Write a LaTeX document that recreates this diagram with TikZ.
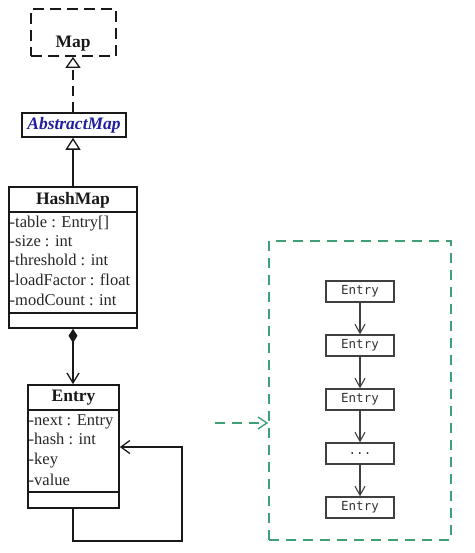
\documentclass[tikz,border=0pt]{standalone}
\usepackage{fontspec}
\setmainfont{Liberation Serif}
\setmonofont{DejaVu Sans Mono}
\usetikzlibrary{arrows.meta}
\definecolor{lineblack}{RGB}{25,25,25}
\definecolor{dashgreen}{RGB}{62,160,118}
\definecolor{absblue}{RGB}{30,30,160}
\tikzset{
  umlbox/.style={draw=lineblack, line width=1.6pt, inner sep=0pt, minimum width=#1},
  hdr/.style={font=\fontsize{17.5}{20}\selectfont\bfseries, text=lineblack, inner sep=0pt},
  attr/.style={font=\fontsize{16.5}{19.5}\selectfont, text=black!85, anchor=west, inner sep=0pt, text height=11pt, text depth=3pt},
  sepline/.style={draw=lineblack, line width=1.6pt},
  conn/.style={draw=lineblack, line width=1.5pt},
  realize/.style={conn, dashed, dash pattern=on 10pt off 6pt, -{Triangle[open, length=11pt, width=15pt, line width=1.3pt]}},
  inherit/.style={conn, -{Triangle[open, length=12pt, width=15pt, line width=1.3pt]}},
  vhead/.style={-{Straight Barb[length=9pt, width=13pt, line width=1.3pt]}},
  entrybox/.style={draw=black!75, line width=1.3pt, minimum width=68pt, minimum height=21pt, inner sep=0pt, font=\fontsize{12.5}{14}\selectfont\ttfamily, text=black!80},
  chain/.style={draw=black!75, line width=1.2pt, -{Straight Barb[length=9pt, width=10pt, line width=1.1pt]}},
  greenbox/.style={draw=dashgreen, line width=1.6pt, dash pattern=on 10pt off 7pt, minimum width=182pt, minimum height=299pt, inner sep=0pt},
}
\begin{document}
\begin{tikzpicture}[x=1pt, y=-1pt]
\useasboundingbox (0,0) rectangle (474,553);

% Map (interface)
\node[draw=lineblack, line width=1.7pt, dash pattern=on 11pt off 6pt, minimum width=85pt, minimum height=47pt, inner sep=0pt] (map) at (73.5,32.5) {};
\node[hdr] (maplbl) at (73,44) {Map};

% AbstractMap
\node[umlbox=104pt, minimum height=24pt, font=\fontsize{17.5}{20}\selectfont\bfseries\itshape, text=absblue] (abs) at (74,125) {AbstractMap};

% HashMap
\node[umlbox=128pt, minimum height=141pt] (hm) at (73,257.5) {};
\node[hdr] (hmlbl) at (73,200) {HashMap};
\draw[sepline] (9,212) -- (137,212);
\draw[sepline] (9,313) -- (137,313);
\node[attr] (a1) at (9.5,223) {-table : Entry[]};
\node[attr] (a2) at (9.5,242) {-size : int};
\node[attr] (a3) at (9.5,261.5) {-threshold : int};
\node[attr] (a4) at (9.5,281.5) {-loadFactor : float};
\node[attr] (a5) at (9.5,301) {-modCount : int};

% Entry
\node[umlbox=91pt, minimum height=123pt] (en) at (73.5,446.5) {};
\node[hdr] (enlbl) at (73.5,397.5) {Entry};
\draw[sepline] (28,410) -- (119,410);
\draw[sepline] (28,492) -- (119,492);
\node[attr] (b1) at (28.5,421) {-next : Entry};
\node[attr] (b2) at (28.5,440.5) {-hash : int};
\node[attr] (b3) at (28.5,460.5) {-key};
\node[attr] (b4) at (28.5,481) {-value};

% connectors
\draw[realize] (abs.north -| 73,0) -- (map.south -| 73,0);
\draw[inherit] (hm.north -| 73,0) -- (abs.south -| 73,0);
\draw[conn, {Diamond[length=14pt, width=9pt]}-{Straight Barb[length=10pt, width=12pt, line width=1.3pt]}] (hm.south -| 73,0) -- (en.north -| 73,0);

\coordinate (l1) at (73,541);
\coordinate (l2) at (182,541);
\coordinate (l3) at (182,447);
\draw[conn, vhead] (en.south -| l1) -- (l1) -- (l2) -- (l3) -- (l3 -| en.east);

% green group
\node[greenbox] (gbox) at (360,390.5) {};
\coordinate (gstart) at (215,423);
\draw[draw=dashgreen, line width=1.6pt, dash pattern=on 10pt off 7pt, -{Straight Barb[length=9pt, width=12pt, line width=1.4pt]}] (gstart) -- (gstart -| gbox.west);

\node[entrybox] (e1) at (360,291.5) {Entry};
\node[entrybox] (e2) at (360,345.5) {Entry};
\node[entrybox] (e3) at (360,399.5) {Entry};
\node[entrybox] (e4) at (360,453.5) {...};
\node[entrybox] (e5) at (360,507.5) {Entry};
\draw[chain] (e1) -- (e2);
\draw[chain] (e2) -- (e3);
\draw[chain] (e3) -- (e4);
\draw[chain] (e4) -- (e5);
\end{tikzpicture}
\end{document}
